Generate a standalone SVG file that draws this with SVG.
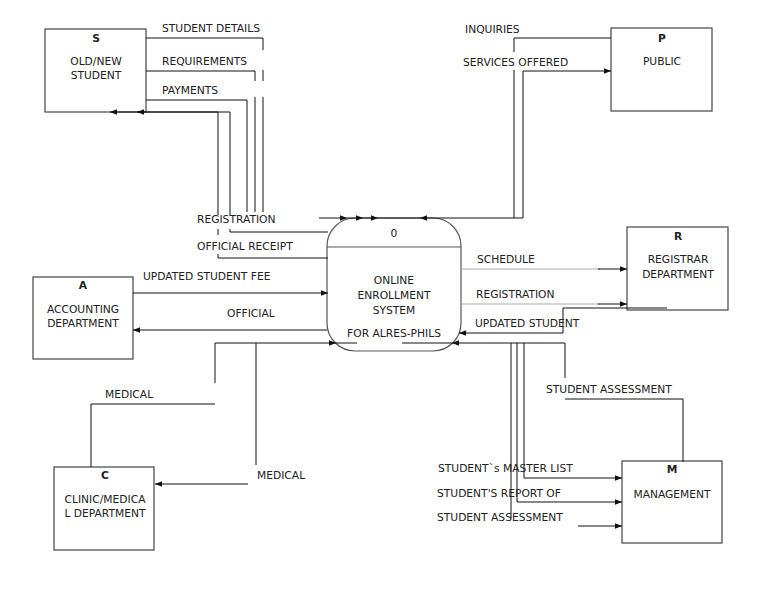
<svg xmlns="http://www.w3.org/2000/svg" width="768" height="594" viewBox="0 0 768 594">
<defs>
<marker id="ah" viewBox="0 0 10 10" refX="10" refY="5" markerWidth="7" markerHeight="7" markerUnits="userSpaceOnUse" orient="auto">
<path d="M0,1 L10,5 L0,9 Z" fill="#111"/>
</marker>
</defs>
<style>
text{font-family:"DejaVu Sans","Liberation Sans",sans-serif;font-size:10.7px;fill:#222}
.c{text-anchor:middle}
.b{font-weight:bold}
.box{fill:none;stroke:#444;stroke-width:1.2}
.ln{fill:none;stroke:#111;stroke-width:1}
.lg{fill:none;stroke:#aaa;stroke-width:1}
.ar{marker-end:url(#ah)}
</style>
<rect width="768" height="594" fill="#fff"/>

<g id="node-S">
<rect class="box" x="45" y="29" width="101" height="83"/>
<text class="c b" x="96" y="42">S</text>
<text class="c" x="96" y="65">OLD/NEW</text>
<text class="c" x="96" y="79">STUDENT</text>
</g>
<g id="node-P">
<rect class="box" x="611" y="28" width="101" height="83"/>
<text class="c b" x="662" y="42">P</text>
<text class="c" x="662" y="65">PUBLIC</text>
</g>
<g id="node-R">
<rect class="box" x="627" y="227" width="101" height="83"/>
<text class="c b" x="678" y="240">R</text>
<text class="c" x="678" y="263">REGISTRAR</text>
<text class="c" x="678" y="278">DEPARTMENT</text>
</g>
<g id="node-A">
<rect class="box" x="33" y="277" width="100" height="82"/>
<text class="c b" x="83" y="289">A</text>
<text class="c" x="83" y="313">ACCOUNTING</text>
<text class="c" x="83" y="327">DEPARTMENT</text>
</g>
<g id="node-C">
<rect class="box" x="54" y="467" width="100" height="83"/>
<text class="c b" x="105" y="479">C</text>
<text class="c" x="105" y="503">CLINIC/MEDICA</text>
<text class="c" x="105" y="517">L DEPARTMENT</text>
</g>
<g id="node-M">
<rect class="box" x="622" y="461" width="100" height="82"/>
<text class="c b" x="672" y="473">M</text>
<text class="c" x="672" y="498">MANAGEMENT</text>
</g>
<g id="node-0">
<rect x="327" y="218" width="134" height="133" rx="28" ry="28" fill="none" stroke="#555" stroke-width="1.2"/>
<line x1="327" y1="247" x2="461" y2="247" stroke="#555" stroke-width="1.2"/>
<text class="c" x="394" y="237">0</text>
<text class="c" x="394" y="284">ONLINE</text>
<text class="c" x="394" y="299">ENROLLMENT</text>
<text class="c" x="394" y="314">SYSTEM</text>
<text class="c" x="394" y="337">FOR ALRES-PHILS</text>
</g>

<g id="connectors">
<path class="ln" d="M146,38 H263 V50"/>
<path class="ln" d="M263,70 V81 M263,97 V212"/>
<path class="ln" d="M146,71 H255 V81 M255,97 V212"/>
<path class="ln" d="M146,100 H247 V212"/>
<path class="ln ar" d="M230,112 H137"/>
<path class="ln ar" d="M218,112 H110"/>
<path class="ln" d="M230,112 V215 M218,112 V215"/>
<path class="ln" d="M218,229 V235 M230,229 V232 H328"/>
<path class="ln" d="M218,254 V258 H328"/>
<path class="ln ar" d="M319,218 H347"/>
<path class="ln ar" d="M347,218 H363"/>
<path class="ln ar" d="M363,218 H378"/>
<path class="ln" d="M378,218 H420"/>
<path class="ln ar" d="M523,218 H420"/>
<path class="ln" d="M514,218 V70 M514,52 V38 H611"/>
<path class="ln ar" d="M523,218 V71 H611"/>
<path class="lg" d="M461,269 H600"/>
<path class="ln ar" d="M598,269 H627"/>
<path class="lg" d="M461,304 H600"/>
<path class="ln ar" d="M598,304 H627"/>
<path class="ln ar" d="M667,308 H563 V333 H459"/>
<path class="ln ar" d="M133,293 H328"/>
<path class="ln ar" d="M327,330 H133"/>
<path class="ln ar" d="M215,383 V343 H336"/>
<path class="ln" d="M336,343 H357"/>
<path class="ln ar" d="M565,378 V343 H452"/>
<path class="ln" d="M452,343 H402"/>
<path class="ln" d="M215,404 H91 V467"/>
<path class="ln ar" d="M256,343 V465 M248,484 H155"/>
<path class="ln" d="M565,399 H683 V462"/>
<path class="ln ar" d="M524,343 V478 H622"/>
<path class="ln ar" d="M517,343 V502 H622"/>
<path class="ln" d="M511,343 V518"/>
<path class="ln ar" d="M578,526 H622"/>
</g>

<g id="labels">
<text x="162" y="32">STUDENT DETAILS</text>
<text x="162" y="65">REQUIREMENTS</text>
<text x="162" y="94">PAYMENTS</text>
<text x="197" y="223">REGISTRATION</text>
<text x="197" y="250">OFFICIAL RECEIPT</text>
<text x="465" y="33">INQUIRIES</text>
<text x="463" y="66">SERVICES OFFERED</text>
<text x="477" y="263">SCHEDULE</text>
<text x="476" y="298">REGISTRATION</text>
<text x="475" y="327">UPDATED STUDENT</text>
<text x="143" y="280">UPDATED STUDENT FEE</text>
<text x="227" y="317">OFFICIAL</text>
<text x="105" y="398">MEDICAL</text>
<text x="257" y="479">MEDICAL</text>
<text x="546" y="393">STUDENT ASSESSMENT</text>
<text x="438" y="472">STUDENT`s MASTER LIST</text>
<text x="437" y="497">STUDENT'S REPORT OF</text>
<text x="437" y="521">STUDENT ASSESSMENT</text>
</g>
</svg>
